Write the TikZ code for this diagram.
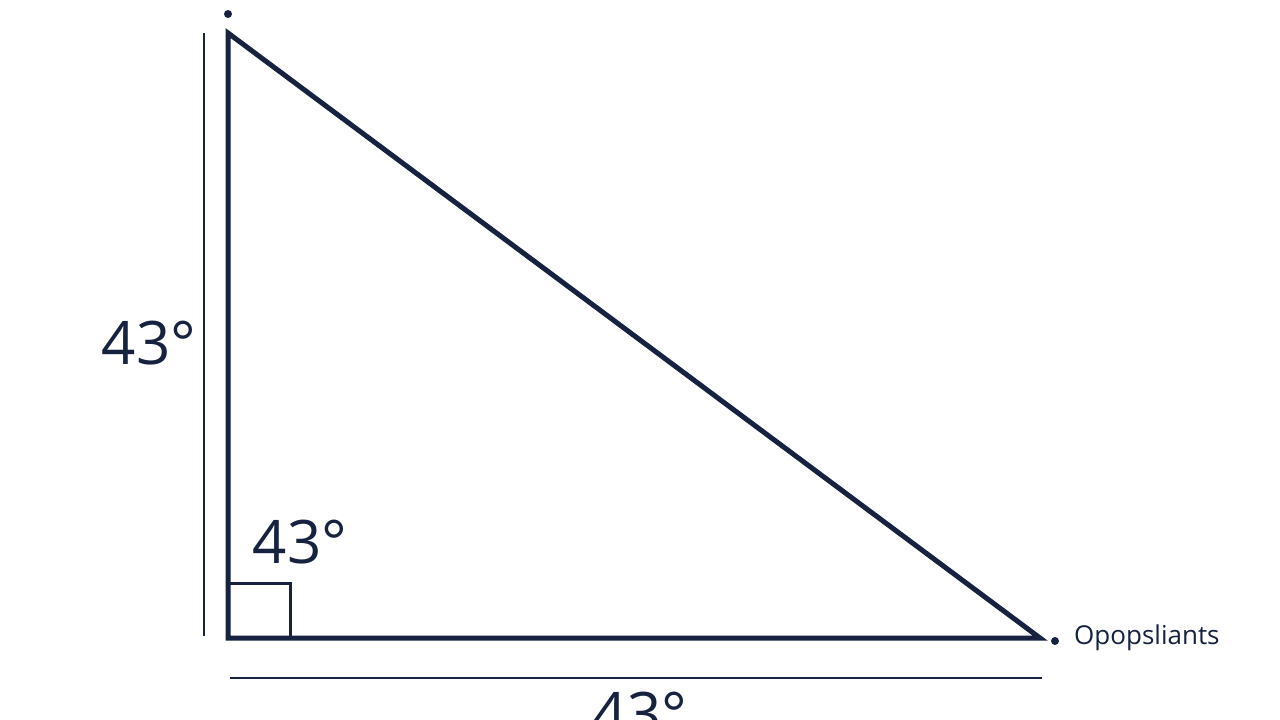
\documentclass[tikz,border=0pt]{standalone}
\usepackage{fontspec}
\setmainfont{Open Sans}
\definecolor{ink}{RGB}{22,34,64}
\tikzstyle{every node}=[text=ink,inner sep=0pt]
\tikzstyle{side}=[draw=ink,line width=5pt,line join=miter]
\tikzstyle{guide}=[draw=ink,line width=2pt]
\tikzstyle{angle}=[font=\fontsize{60}{60}\selectfont]
\tikzstyle{dot}=[fill=ink]

\begin{document}
\begin{tikzpicture}[x=1pt,y=-1pt]
        \useasboundingbox[fill=white] (0,0) rectangle (1280,720);
        \coordinate (top) at (228,33);
        \coordinate (corner) at (228,638);
        \coordinate (right) at (1040,638);
        % triangle
        \draw[side] (top) -- (corner) -- (right) -- cycle;
        \draw[draw=ink,line width=3pt] (corner) ++(0,-55) -| ++(62,55);
        % guide lines
        \draw[guide] (204,33) coordinate (gl1) -- (204,636) coordinate (gl2);
        \draw[guide] (230,678) coordinate (gb1) -- (1042,678) coordinate (gb2);
        % dots
        \fill[dot] (228,14) circle (4);
        \fill[dot] (1055,641) circle (4);
        % labels
        \node[angle] (leftlabel) at (149,343) {43°};
        \node[angle] (innerlabel) at (300,542) {43°};
        \node[angle] (bottomlabel) at (640,714) {43°};
        \node[font=\fontsize{26}{26}\selectfont,anchor=west] (vertexlabel) at (1074,638) {Opopsliants};
\end{tikzpicture}
\end{document}
